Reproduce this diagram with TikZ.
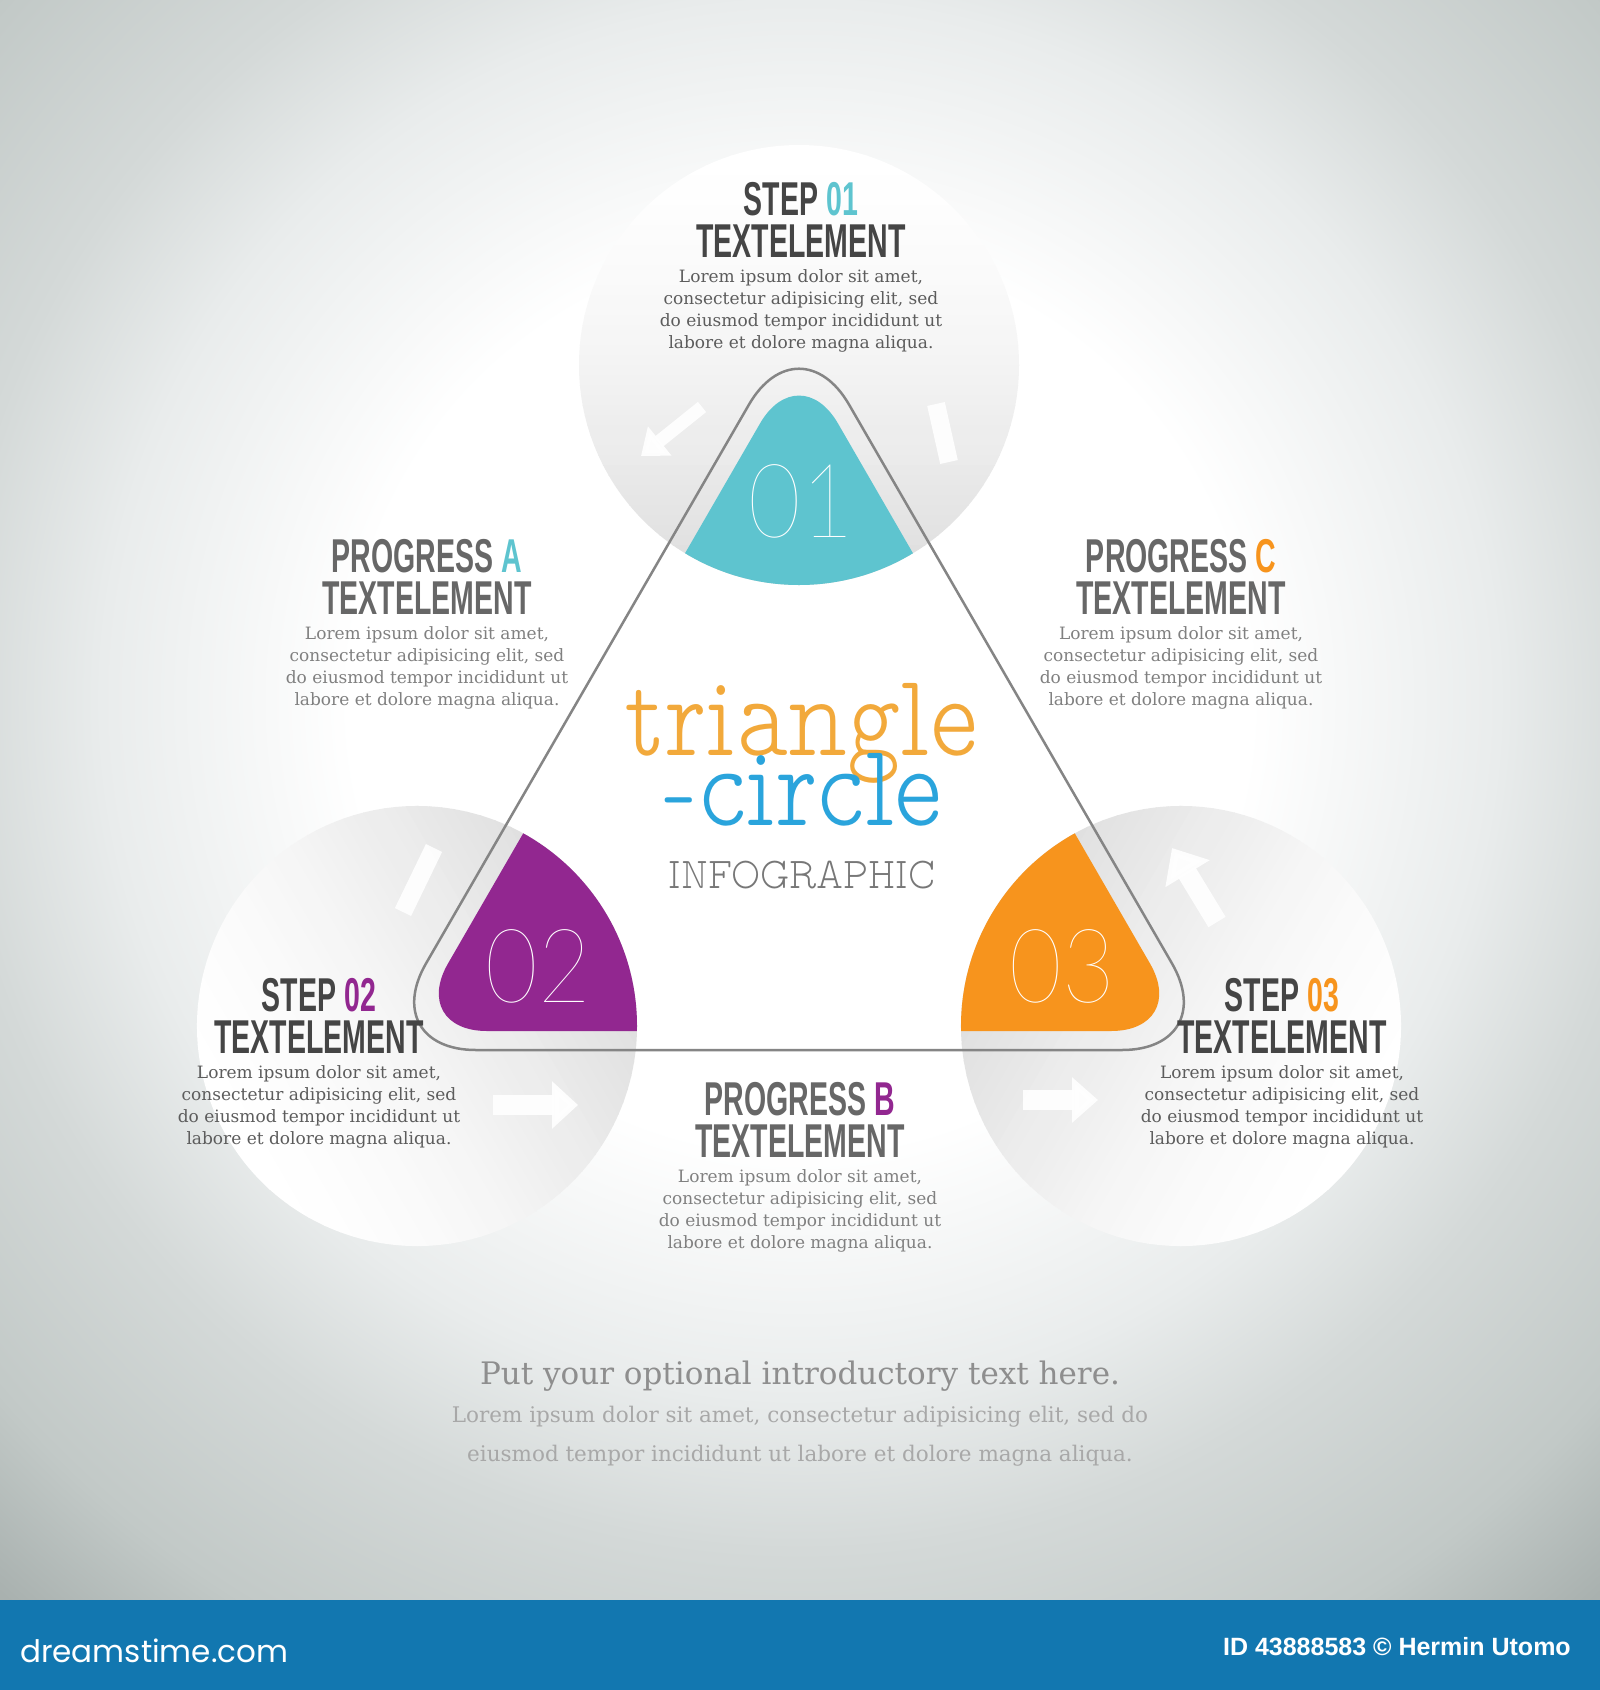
\documentclass[tikz,border=0pt]{standalone}
\usepackage{fontspec}
\usetikzlibrary{arrows.meta}
\setmainfont{DejaVu Serif}
\newfontfamily\headfont[FakeStretch=0.6]{Liberation Sans}
\newfontfamily\numfont[FakeStretch=0.88]{Lato Hairline}
\newfontfamily\slabtitle[FakeStretch=0.86]{lmmonoproplt10-regular.otf}
\newfontfamily\slabinfo[FakeStretch=0.81]{lmmonoproplt10-regular.otf}
\newfontfamily\logofont{Poppins}
\newfontfamily\idfont{Liberation Sans}

\definecolor{cyanc}{HTML}{5EC4CF}
\definecolor{purplec}{HTML}{922790}
\definecolor{orangec}{HTML}{F7941D}
\definecolor{titleorange}{HTML}{F2A93B}
\definecolor{titleblue}{HTML}{2AA4DC}
\definecolor{headdark}{HTML}{454545}
\definecolor{headgrey}{HTML}{676767}
\definecolor{bodydark}{HTML}{5C5C5C}
\definecolor{bodygrey}{HTML}{808080}
\definecolor{outlinec}{HTML}{858585}
\definecolor{discgrey}{HTML}{DCDCDC}
\definecolor{barblue}{HTML}{1277B0}
\definecolor{bgone}{HTML}{E9ECEC}
\definecolor{bgtwo}{HTML}{D4D9D8}
\definecolor{bgthree}{HTML}{C2C9C7}
\definecolor{bgedge}{HTML}{A9B1AF}
\definecolor{introc}{HTML}{8E8E8E}
\definecolor{introsubc}{HTML}{A8A8A8}
\definecolor{infoc}{HTML}{777777}

\pgfdeclareradialshading{bgshade}{\pgfpoint{0bp}{0bp}}{color(0bp)=(white); color(12.5bp)=(white); color(19.4bp)=(bgone); color(23.6bp)=(bgtwo); color(29.4bp)=(bgthree); color(33.3bp)=(bgedge); color(50bp)=(bgedge)}

\tikzset{
  headtxt/.style={anchor=base, inner sep=0pt, text height=34pt, text depth=0pt, font=\headfont\bfseries\fontsize{47.5}{47.5}\selectfont},
  bodytxt/.style={anchor=base, inner sep=0pt, font=\fontsize{17}{17}\selectfont},
  numtxt/.style={anchor=base, inner sep=0pt, text=white, font=\numfont\fontsize{103}{103}\selectfont},
  titletxt/.style={anchor=base, inner sep=0pt, font=\slabtitle\fontsize{118}{118}\selectfont},
  subtxt/.style={anchor=base, inner sep=0pt, text=infoc, font=\slabinfo\fontsize{44}{44}\selectfont},
  introtxt/.style={anchor=base, inner sep=0pt, text=introc, font=\fontsize{31}{31}\selectfont},
  introsub/.style={anchor=base, inner sep=0pt, text=introsubc, font=\fontsize{21.5}{21.5}\selectfont},
  whitearrow/.style={draw=white, opacity=0.9, line width=#1},
  outlinestyle/.style={draw=outlinec, line width=2.5pt, rounded corners=100pt},
  sector/.style={fill=#1, rounded corners=78pt},
}

% a disc shaded from white (far side) to light grey on its local "down" side;
% the rotation turns the grey side towards the triangle's centre
\newcommand\fadedisc[2]{%
  \begin{scope}[shift={(#1)}, rotate=#2]
    \clip (0,0) circle (220);
    \foreach \k in {0,...,43} {
      \pgfmathsetmacro\pct{100*((\k+0.5)/44)^1.6}
      \fill[discgrey!\pct!white] (-221,-220+10*\k) rectangle (221,-209+10*\k);
    }
  \end{scope}}

\newcommand\infoblock[8]{%
  \node[headtxt, text=#7] (#1-h1) at (#2,#3) {#4 \textcolor{#6}{#5}};
  \node[headtxt, text=#7] (#1-h2) at (#2,#3+42) {TEXTELEMENT};
  \node[bodytxt, text=#8] (#1-b1) at (#2,#3+67) {Lorem ipsum dolor sit amet,};
  \node[bodytxt, text=#8] (#1-b2) at (#2,#3+89) {consectetur adipisicing elit, sed};
  \node[bodytxt, text=#8] (#1-b3) at (#2,#3+111) {do eiusmod tempor incididunt ut};
  \node[bodytxt, text=#8] (#1-b4) at (#2,#3+133) {labore et dolore magna aliqua.};
}

\begin{document}
\begin{tikzpicture}[x=1pt,y=-1pt]
\useasboundingbox (0,0) rectangle (1600,1690);
% background
\begin{scope}
  \clip (0,0) rectangle (1600,1600);
  \shade[shading=bgshade] (-100,-200) rectangle (1700,1600);
\end{scope}
\fill[barblue] (0,1600) rectangle (1600,1690);

% corner discs
\coordinate (c1) at (799,365);
\coordinate (c2) at (417,1026);
\coordinate (c3) at (1181,1026);
\fadedisc{c1}{0}
\fadedisc{c2}{120}
\fadedisc{c3}{-120}

% faint white arrows on the discs
\draw[whitearrow=13pt, -{Triangle[width=36pt,length=24pt]}] (702,407) -- (641,456);
\draw[whitearrow=18pt] (936,404) -- (949,462);
\draw[whitearrow=18pt] (434,848) -- (403,912);
\draw[whitearrow=20pt, -{Triangle[width=46pt,length=26pt]}] (493,1105) -- (578,1105);
\draw[whitearrow=20pt, -{Triangle[width=50pt,length=30pt]}] (1217,922) -- (1172,848);
\draw[whitearrow=20pt, -{Triangle[width=44pt,length=26pt]}] (1023,1100) -- (1098,1100);

% triangle outline
\draw[outlinestyle] (587.5,684) -- (799,318) -- (1222,1050) -- (376,1050) -- cycle;

% coloured sectors
\begin{scope}
  \clip (c1) circle (220);
  \fill[sector=cyanc] (604,693.5) -- (799,356) -- (1189,1031) -- (409,1031) -- cycle;
\end{scope}
\begin{scope}
  \clip (c2) circle (220);
  \fill[sector=purplec] (604,693.5) -- (799,356) -- (1189,1031) -- (409,1031) -- cycle;
\end{scope}
\begin{scope}
  \clip (c3) circle (220);
  \fill[sector=orangec] (604,693.5) -- (799,356) -- (1189,1031) -- (409,1031) -- cycle;
\end{scope}

% numbers
\node[numtxt] (n1) at (801,537) {01};
\node[numtxt] (n2) at (538,1002) {02};
\node[numtxt] (n3) at (1062,1002) {03};

% centre title
\node[titletxt, text=titleorange, text depth=0pt] (t1) at (801,755) {triangle};
\node[titletxt, text=titleblue, text height=64pt] (t2) at (803,825) {-circle};
\node[subtxt] (t3) at (802,888) {INFOGRAPHIC};

% text blocks
\infoblock{s1}{801}{215}{STEP}{01}{cyanc}{headdark}{bodydark}
\infoblock{pa}{427}{572}{PROGRESS}{A}{cyanc}{headgrey}{bodygrey}
\infoblock{pc}{1181}{572}{PROGRESS}{C}{orangec}{headgrey}{bodygrey}
\infoblock{s2}{319}{1011}{STEP}{02}{purplec}{headdark}{bodydark}
\infoblock{s3}{1282}{1011}{STEP}{03}{orangec}{headdark}{bodydark}
\infoblock{pb}{800}{1115}{PROGRESS}{B}{purplec}{headgrey}{bodygrey}

% introductory text
\node[introtxt] (i1) at (800,1384) {Put your optional introductory text here.};
\node[introsub] (i2) at (800,1422) {Lorem ipsum dolor sit amet, consectetur adipisicing elit, sed do};
\node[introsub] (i3) at (800,1461) {eiusmod tempor incididunt ut labore et dolore magna aliqua.};

% footer bar
\node[anchor=base west, inner sep=0pt, text=white, font=\logofont\fontsize{31}{31}\selectfont] (logo) at (20,1662) {dreamstime.com};
\node[anchor=base east, inner sep=0pt, text=white, font=\idfont\bfseries\fontsize{25}{25}\selectfont] (idtext) at (1571,1655) {ID 43888583 © Hermin Utomo};
\end{tikzpicture}
\end{document}
